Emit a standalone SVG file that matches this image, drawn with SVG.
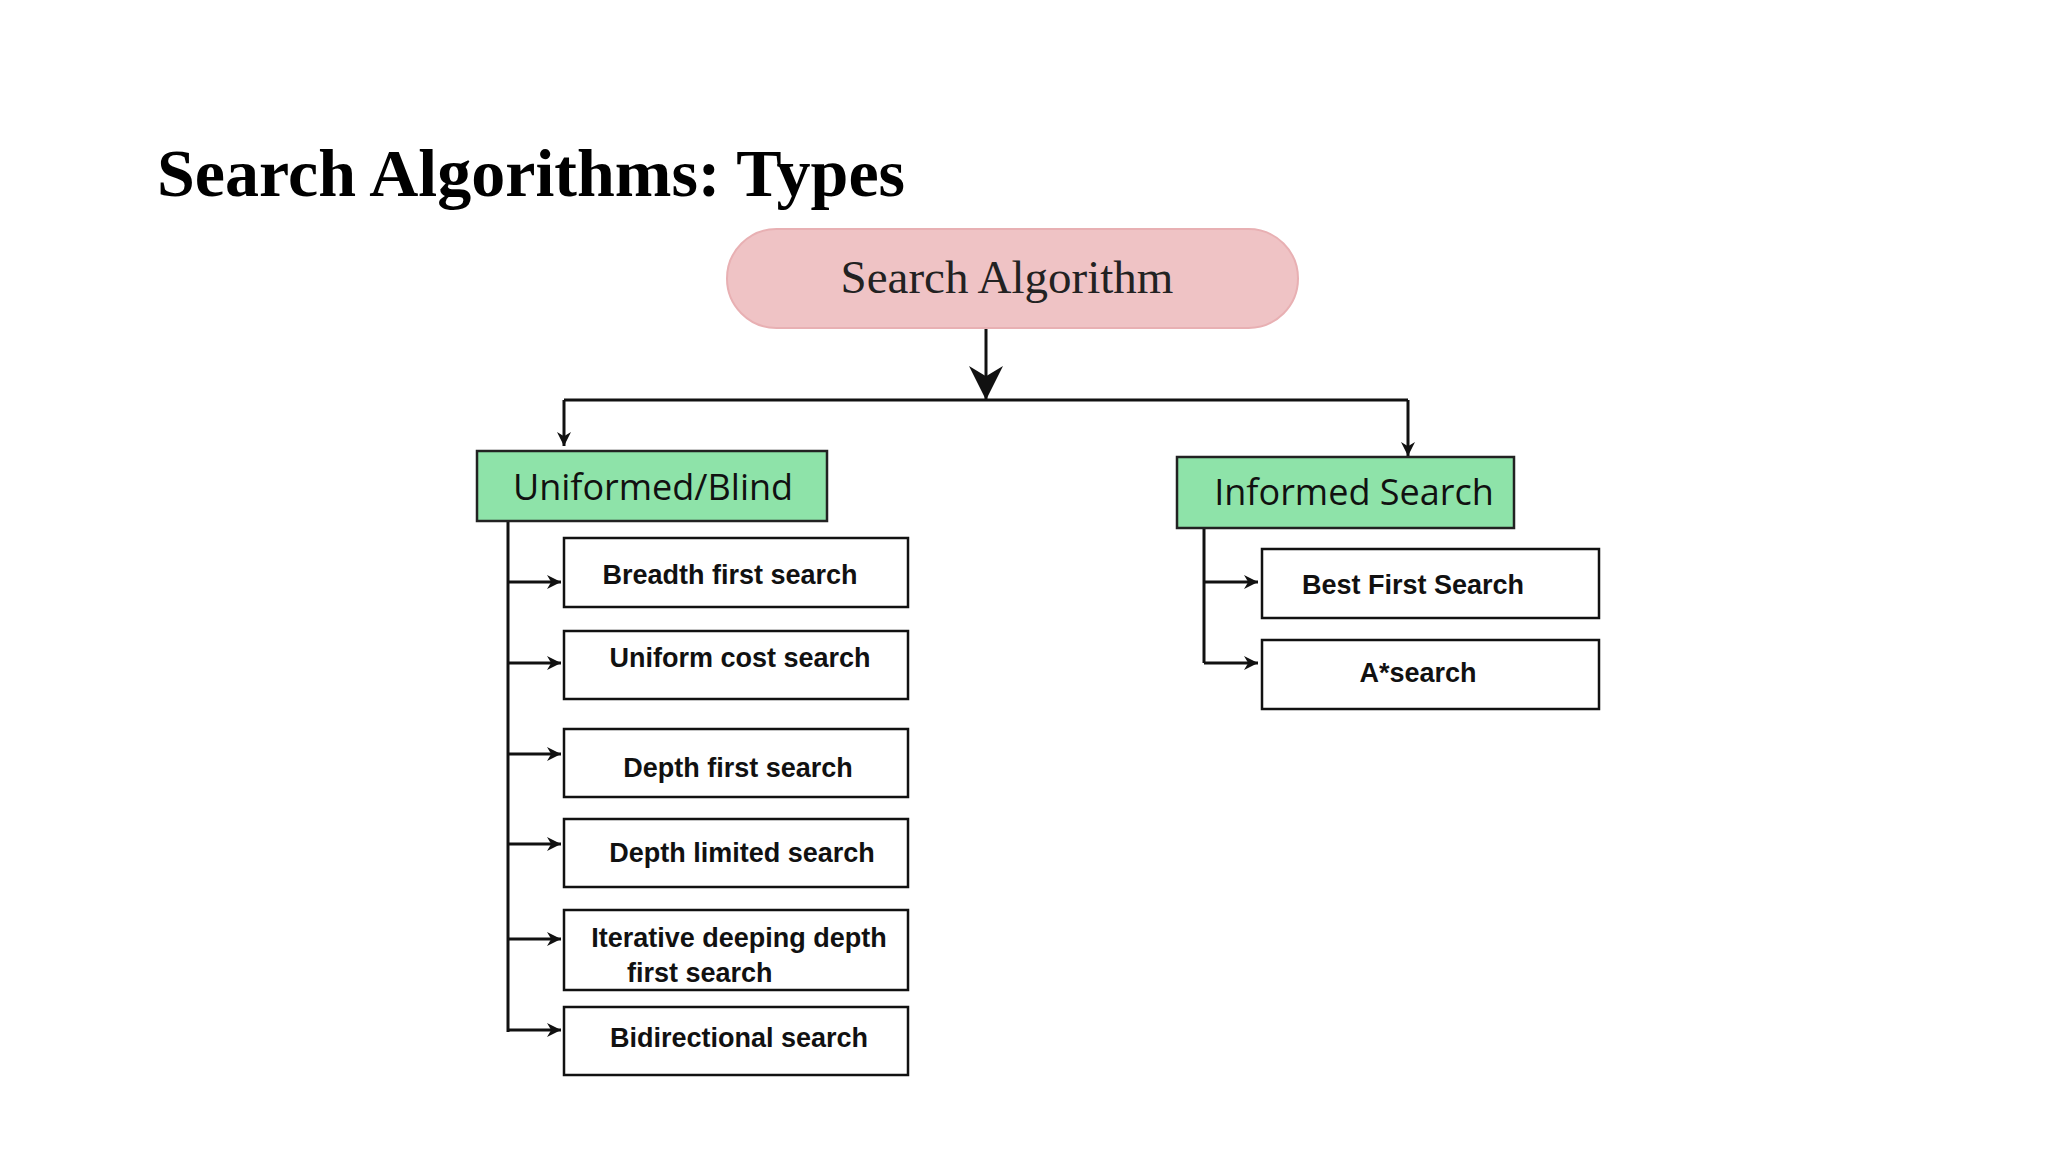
<svg xmlns="http://www.w3.org/2000/svg" width="2048" height="1152" viewBox="0 0 2048 1152">
<style>
.b{fill:#fff;stroke:#111;stroke-width:2.5}
.g{fill:#8ee3a9;stroke:#222;stroke-width:2.5}
.t{font-family:"Liberation Sans",Arial,sans-serif;font-weight:bold;font-size:27px;fill:#111;text-anchor:middle}
.h{font-family:"Open Sans","Liberation Sans",sans-serif;font-size:36px;fill:#111;text-anchor:middle}
.l{fill:none;stroke:#111;stroke-width:3}
</style>
<defs>
<marker id="a" viewBox="0 0 10 10" refX="10" refY="5" markerWidth="5" markerHeight="5" orient="auto" markerUnits="userSpaceOnUse" ><path d="M0,0L10,5L0,10L3,5z" fill="#111"/></marker>
<marker id="s" viewBox="0 0 10 10" refX="10" refY="5" markerWidth="14" markerHeight="14" orient="auto" markerUnits="userSpaceOnUse"><path d="M0,0L10,5L0,10L3,5z" fill="#111"/></marker>
<marker id="B" viewBox="0 0 10 10" refX="10" refY="5" markerWidth="34" markerHeight="34" orient="auto" markerUnits="userSpaceOnUse"><path d="M0,0L10,5L0,10L3,5z" fill="#111"/></marker>
</defs>
<rect width="2048" height="1152" fill="#fff"/>
<text x="157" y="196" font-family="Liberation Serif,serif" font-weight="bold" font-size="68">Search Algorithms: Types</text>
<g id="connectors">
<path class="l" d="M986,328V400" marker-end="url(#B)"/>
<path class="l" d="M564,400H1408"/>
<path class="l" d="M564,400V446" marker-end="url(#s)"/>
<path class="l" d="M1408,400V456" marker-end="url(#s)"/>
<path class="l" d="M508,521V1032"/>
<path class="l" d="M508,582H561" marker-end="url(#s)"/>
<path class="l" d="M508,663H561" marker-end="url(#s)"/>
<path class="l" d="M508,754H561" marker-end="url(#s)"/>
<path class="l" d="M508,844H561" marker-end="url(#s)"/>
<path class="l" d="M508,939H561" marker-end="url(#s)"/>
<path class="l" d="M508,1030H561" marker-end="url(#s)"/>
<path class="l" d="M1204,528V663"/>
<path class="l" d="M1204,582H1258" marker-end="url(#s)"/>
<path class="l" d="M1204,663H1258" marker-end="url(#s)"/>
</g>
<g id="root"><rect x="727" y="229" width="571" height="99" rx="49.5" fill="#efc3c5" stroke="#e8b0b3" stroke-width="2"/><text x="1007" y="293" font-family="Liberation Serif,serif" font-size="47" text-anchor="middle" fill="#222">Search Algorithm</text></g>
<g id="uninformed"><rect class="g" x="477" y="451" width="350" height="70"/><text class="h" x="653" y="500">Uniformed/Blind</text></g>
<g id="informed"><rect class="g" x="1177" y="457" width="337" height="71"/><text class="h" x="1354" y="505">Informed Search</text></g>
<g id="bfs"><rect class="b" x="564" y="538" width="344" height="69"/><text class="t" x="730" y="584">Breadth first search</text></g>
<g id="ucs"><rect class="b" x="564" y="631" width="344" height="68"/><text class="t" x="740" y="667">Uniform cost search</text></g>
<g id="dfs"><rect class="b" x="564" y="729" width="344" height="68"/><text class="t" x="738" y="777">Depth first search</text></g>
<g id="dls"><rect class="b" x="564" y="819" width="344" height="68"/><text class="t" x="742" y="862">Depth limited search</text></g>
<g id="iddfs"><rect class="b" x="564" y="910" width="344" height="80"/><text class="t" x="739" y="947">Iterative deeping depth</text><text class="t" x="627" y="982" text-anchor="start" style="text-anchor:start">first search</text></g>
<g id="bidi"><rect class="b" x="564" y="1007" width="344" height="68"/><text class="t" x="739" y="1047">Bidirectional search</text></g>
<g id="best"><rect class="b" x="1262" y="549" width="337" height="69"/><text class="t" x="1413" y="594">Best First Search</text></g>
<g id="astar"><rect class="b" x="1262" y="640" width="337" height="69"/><text class="t" x="1418" y="682">A*search</text></g>
</svg>
